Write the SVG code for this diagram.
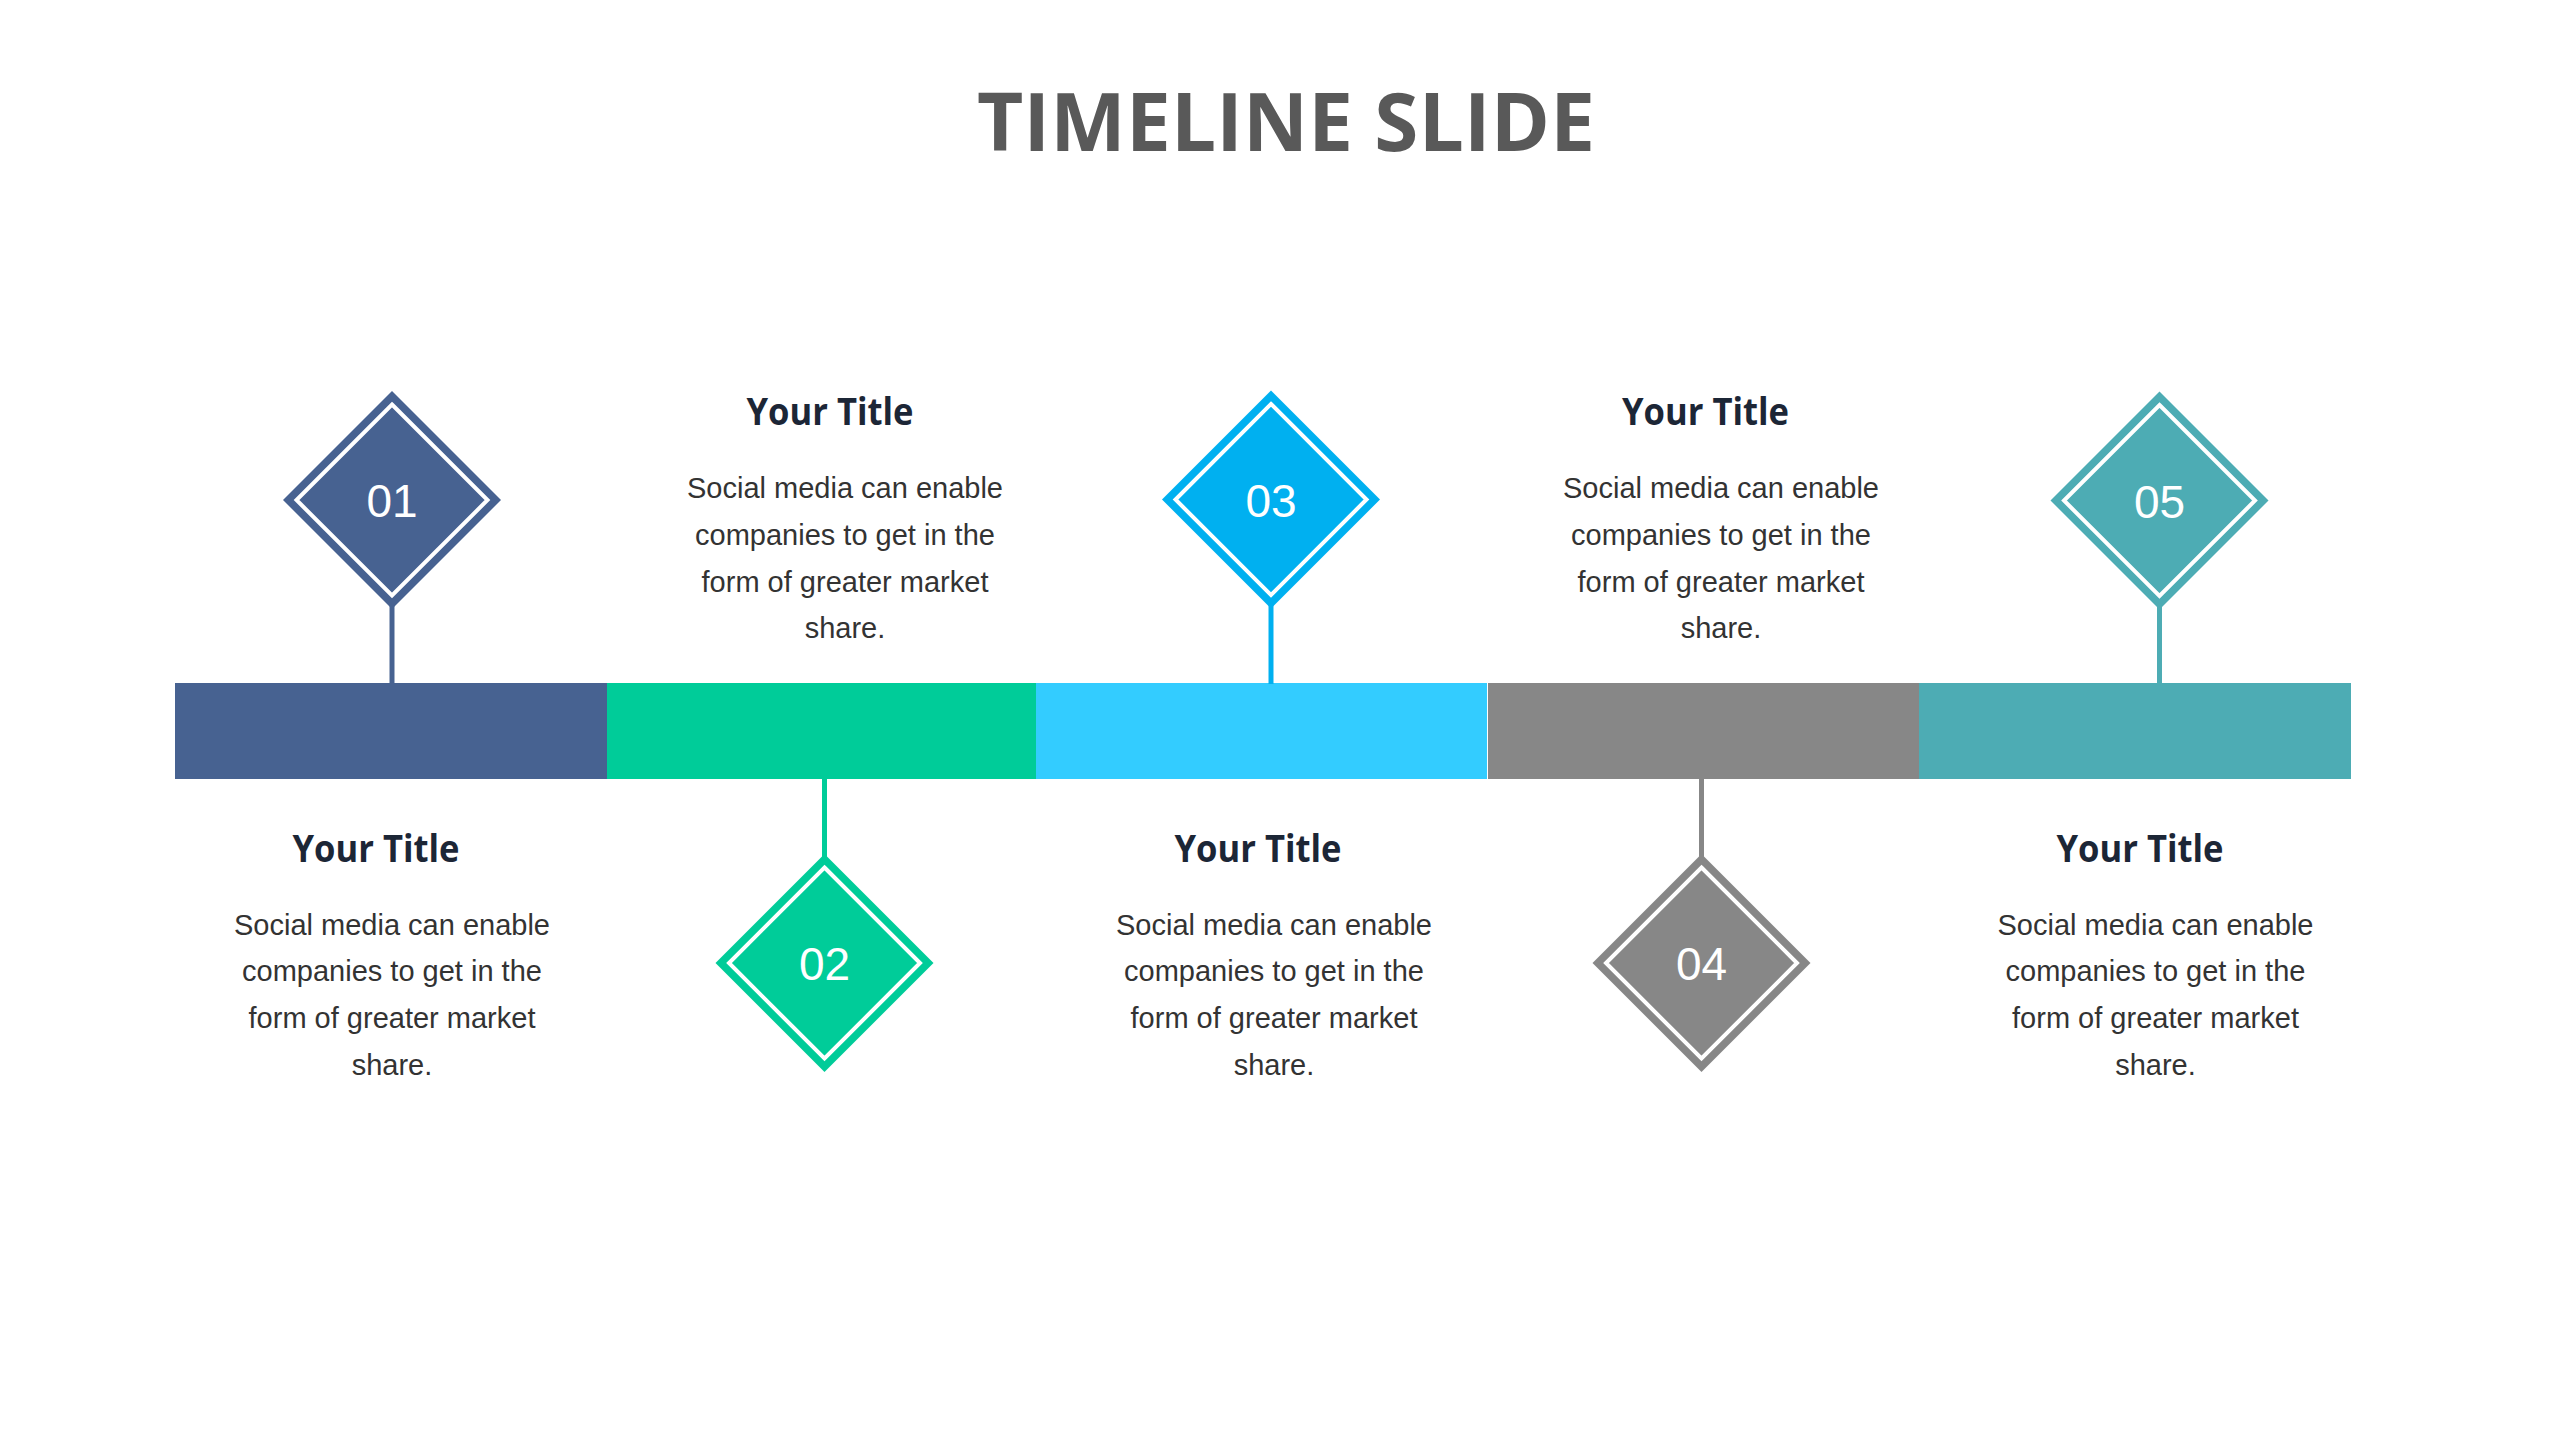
<svg xmlns="http://www.w3.org/2000/svg" width="2559" height="1440" viewBox="0 0 2559 1440">
  <defs>
    <style>
      .main-title { font-family: "Open Sans", "Liberation Sans", sans-serif; font-weight: 700; font-size: 80px; fill: #595959; }
      .ttl { font-family: "Open Sans", "Liberation Sans", sans-serif; font-weight: 700; font-size: 37px; fill: #1c2636; text-anchor: middle; }
      .body { font-family: "Liberation Sans", Arial, sans-serif; font-size: 29px; fill: #333333; text-anchor: middle; }
      .num { font-family: "Liberation Sans", Arial, sans-serif; font-size: 46px; fill: #ffffff; text-anchor: middle; }
      .inner { fill: none; stroke: #ffffff; stroke-width: 4; }
    </style>
  </defs>
  <rect x="0" y="0" width="2559" height="1440" fill="#ffffff"/>

  <text class="main-title" x="1286" y="151" text-anchor="middle" textLength="618" lengthAdjust="spacing">TIMELINE SLIDE</text>

  <!-- timeline bar -->
  <g id="bar">
    <rect x="175" y="683" width="433" height="96" fill="#476291"/>
    <rect x="607" y="683" width="430" height="96" fill="#00CC99"/>
    <rect x="1036" y="683" width="451" height="96" fill="#33CCFF"/>
    <rect x="1488" y="683" width="432" height="96" fill="#878787"/>
    <rect x="1919" y="683" width="432" height="96" fill="#4DACB4"/>
  </g>

  <!-- connectors (stems) -->
  <g id="connectors">
    <line x1="392" y1="605" x2="392" y2="684" stroke="#476291" stroke-width="5"/>
    <line x1="824.5" y1="778" x2="824.5" y2="857" stroke="#00CC99" stroke-width="5"/>
    <line x1="1271" y1="605" x2="1271" y2="684" stroke="#00B0F0" stroke-width="5"/>
    <line x1="1701.5" y1="778" x2="1701.5" y2="857" stroke="#878787" stroke-width="5"/>
    <line x1="2159.5" y1="605" x2="2159.5" y2="684" stroke="#4DACB4" stroke-width="5"/>
  </g>

  <g id="node-01">
    <path d="M392 391 L501 500 L392 609 L283 500 Z" fill="#476291"/>
    <path class="inner" d="M392 404.5 L487.5 500 L392 595.5 L296.5 500 Z"/>
    <text class="num" x="392" y="517">01</text>
  </g>

  <g id="node-02">
    <path d="M824.5 854 L933.5 963 L824.5 1072 L715.5 963 Z" fill="#00CC99"/>
    <path class="inner" d="M824.5 867.5 L920 963 L824.5 1058.5 L729 963 Z"/>
    <text class="num" x="824.5" y="980">02</text>
  </g>

  <g id="node-03">
    <path d="M1271 390.5 L1380 499.5 L1271 608.5 L1162 499.5 Z" fill="#00B0F0"/>
    <path class="inner" d="M1271 404 L1366.5 499.5 L1271 595 L1175.5 499.5 Z"/>
    <text class="num" x="1271" y="516.5">03</text>
  </g>

  <g id="node-04">
    <path d="M1701.5 854 L1810.5 963 L1701.5 1072 L1592.5 963 Z" fill="#878787"/>
    <path class="inner" d="M1701.5 867.5 L1797 963 L1701.5 1058.5 L1606 963 Z"/>
    <text class="num" x="1701.5" y="980">04</text>
  </g>

  <g id="node-05">
    <path d="M2159.5 391.5 L2268.5 500.5 L2159.5 609.5 L2050.5 500.5 Z" fill="#4DACB4"/>
    <path class="inner" d="M2159.5 405 L2255 500.5 L2159.5 596 L2064 500.5 Z"/>
    <text class="num" x="2159.5" y="517.5">05</text>
  </g>

  <g id="text-01">
    <text class="ttl" x="376" y="862" textLength="167" lengthAdjust="spacingAndGlyphs">Your Title</text>
    <text class="body" x="392" y="934.5">Social media can enable</text>
    <text class="body" x="392" y="981.2">companies to get in the</text>
    <text class="body" x="392" y="1027.9">form of greater market</text>
    <text class="body" x="392" y="1074.5">share.</text>
  </g>

  <g id="text-02">
    <text class="ttl" x="830" y="425" textLength="167" lengthAdjust="spacingAndGlyphs">Your Title</text>
    <text class="body" x="845" y="498.2">Social media can enable</text>
    <text class="body" x="845" y="544.9">companies to get in the</text>
    <text class="body" x="845" y="591.5">form of greater market</text>
    <text class="body" x="845" y="638.2">share.</text>
  </g>

  <g id="text-03">
    <text class="ttl" x="1258" y="862" textLength="167" lengthAdjust="spacingAndGlyphs">Your Title</text>
    <text class="body" x="1274" y="934.5">Social media can enable</text>
    <text class="body" x="1274" y="981.2">companies to get in the</text>
    <text class="body" x="1274" y="1027.9">form of greater market</text>
    <text class="body" x="1274" y="1074.5">share.</text>
  </g>

  <g id="text-04">
    <text class="ttl" x="1705.5" y="425" textLength="167" lengthAdjust="spacingAndGlyphs">Your Title</text>
    <text class="body" x="1721" y="498.2">Social media can enable</text>
    <text class="body" x="1721" y="544.9">companies to get in the</text>
    <text class="body" x="1721" y="591.5">form of greater market</text>
    <text class="body" x="1721" y="638.2">share.</text>
  </g>

  <g id="text-05">
    <text class="ttl" x="2140" y="862" textLength="167" lengthAdjust="spacingAndGlyphs">Your Title</text>
    <text class="body" x="2155.5" y="934.5">Social media can enable</text>
    <text class="body" x="2155.5" y="981.2">companies to get in the</text>
    <text class="body" x="2155.5" y="1027.9">form of greater market</text>
    <text class="body" x="2155.5" y="1074.5">share.</text>
  </g>
</svg>
